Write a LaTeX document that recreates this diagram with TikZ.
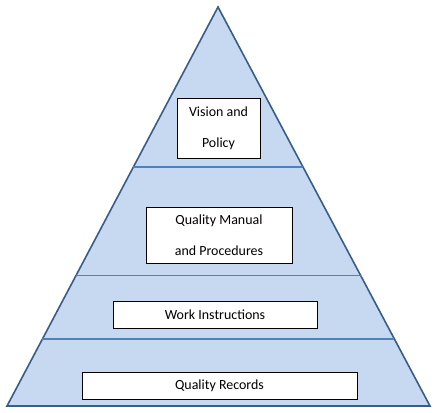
\documentclass[tikz,border=0pt]{standalone}
\usepackage{fontspec}
\setmainfont{Carlito}
\usetikzlibrary{calc}
\usetikzlibrary{positioning}
\definecolor{layerfill}{RGB}{198,217,241}
\definecolor{edgeblue}{RGB}{56,93,138}
\definecolor{lineblue}{RGB}{79,129,189}

\begin{document}
\begin{tikzpicture}[
            x = 1bp, y = -1bp, % pixel grid of the picture
            semithick % line style
        ]

        \tikzstyle{level box}=[
            draw = black,
            line width = 0.8bp,
            fill = white,
            inner sep = 0pt,
            align = center,
            font = \fontsize{14}{31}\selectfont
        ]

        \useasboundingbox (0,0) rectangle (437,412);

	% pyramid
        \coordinate (apex) at (218,7);
        \coordinate (BL) at (7,406);
        \coordinate (BR) at (430,406);

        \draw[fill = layerfill, draw = edgeblue, line width = 1.6bp, line join = miter]
            (apex) -- (BL) -- (BR) -- cycle;

         % dividers
         \draw[lineblue, line width = 1.1bp] ($(apex)!0.401!(BL)$) -- ($(apex)!0.401!(BR)$);
         \draw[lineblue, line width = 1.1bp] ($(apex)!0.674!(BL)$) -- ($(apex)!0.674!(BR)$);
         \draw[lineblue, line width = 1.1bp] ($(apex)!0.832!(BL)$) -- ($(apex)!0.832!(BR)$);

         % labels
         \node[level box, minimum width = 83bp, minimum height = 60bp] (VP) at (218.5,128) {Vision and\\Policy};
         \node[level box, minimum width = 146bp, minimum height = 56bp] (QM) at (219,235) {Quality Manual\\and Procedures};
         \node[level box, minimum width = 204bp, minimum height = 27bp] (WI) at (215,314.5) {Work Instructions};
         \node[level box, minimum width = 275bp, minimum height = 27bp] (QR) at (219.5,385.5) {Quality Records};

  \end{tikzpicture}
\end{document}
